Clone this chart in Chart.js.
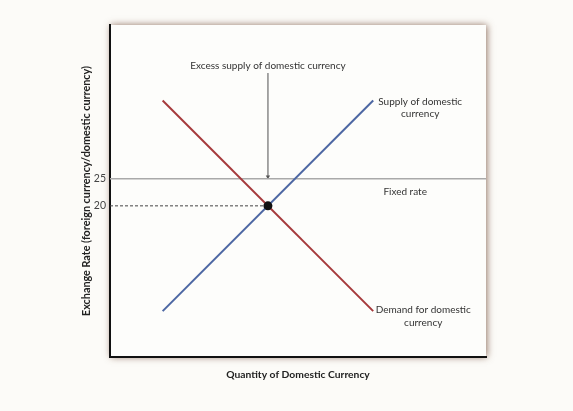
<!DOCTYPE html>
<html><head><meta charset="utf-8">
<script src="https://cdn.jsdelivr.net/npm/chart.js@4/dist/chart.umd.min.js"></script>
<style>
html,body{margin:0;padding:0;background:#fcfbf8;}
#wrap{width:573px;height:411px;position:relative;}
</style></head>
<body><div id="wrap"><canvas id="c" width="573" height="411"></canvas></div>
<script>
// ---- data ----
const quantity = [14, 70];
const demandRate = [39.5, 0.5];
const supplyRate = [0.5, 39.5];
const fixedRate = 25;
const equilibriumQuantity = 42;
const equilibriumRate = 20;
const arrowRates = [44.6, 25.4];
const yTickValues = [20, 25];
const xRange = [0, 100];
const yRange = [-8, 53.5];
const labels = [
  {text: ["Excess supply of domestic currency"], q: 42, r: 46.0},
  {text: ["Supply of domestic", "currency"], q: 82.5, r: 39.3},
  {text: ["Fixed rate"], q: 78.5, r: 22.6},
  {text: ["Demand for domestic", "currency"], q: 83.3, r: 0.7}
];
const xTitle = "Quantity of Domestic Currency";
const yTitle = "Exchange Rate (foreign currency/domestic currency)";

const FONT = "Lato, 'Open Sans', sans-serif";

const boxPlugin = {
  id: 'box',
  beforeDraw(chart) {
    const {ctx, chartArea: a} = chart;
    ctx.save();
    ctx.shadowColor = 'rgba(110,70,50,0.75)';
    ctx.shadowBlur = 7;
    ctx.shadowOffsetX = 1;
    ctx.shadowOffsetY = 0;
    ctx.fillStyle = '#fdfdfb';
    ctx.fillRect(a.left, a.top, a.right - a.left, a.bottom - a.top);
    ctx.restore();
  },
  afterDatasetsDraw(chart) {
    const {ctx, scales: {x, y}} = chart;
    ctx.save();
    ctx.fillStyle = '#333';
    ctx.font = "10px " + FONT;
    ctx.textAlign = 'center';
    ctx.textBaseline = 'middle';
    labels.forEach(l => {
      const px = x.getPixelForValue(l.q);
      const py = y.getPixelForValue(l.r);
      l.text.forEach((t, i) => ctx.fillText(t, px, py + i * 12.5));
    });
    ctx.restore();
  }
};

new Chart(document.getElementById('c'), {
  type: 'scatter',
  data: {
    datasets: [
      {order: 0, data: [{x: equilibriumQuantity, y: equilibriumRate}], pointRadius: 4.5, pointBackgroundColor: '#111', pointBorderColor: '#111', pointBorderWidth: 0, pointStyle: 'circle'},
      {order: 1, data: quantity.map((q, i) => ({x: q, y: demandRate[i]})), showLine: true, borderColor: '#a63a3c', borderWidth: 2, pointRadius: 0},
      {order: 1, data: quantity.map((q, i) => ({x: q, y: supplyRate[i]})), showLine: true, borderColor: '#4d67a3', borderWidth: 2, pointRadius: 0},
      {order: 2, data: [{x: xRange[0], y: fixedRate}, {x: xRange[1], y: fixedRate}], showLine: true, borderColor: '#a9a9a9', borderWidth: 1.5, pointRadius: 0},
      {order: 2, data: [{x: xRange[0], y: equilibriumRate}, {x: equilibriumQuantity, y: equilibriumRate}], showLine: true, borderColor: '#444', borderWidth: 1, borderDash: [3, 2], pointRadius: 0},
      {order: 2, data: arrowRates.map(r => ({x: equilibriumQuantity, y: r})), showLine: true, borderColor: '#999', borderWidth: 1,
        pointRadius: [0, 2.5], pointStyle: 'triangle', pointRotation: 180, pointBackgroundColor: '#555', pointBorderWidth: 0}
    ]
  },
  options: {
    responsive: false,
    animation: false,
    layout: {padding: {left: 0, top: 25, right: 87, bottom: 0}},
    plugins: {legend: {display: false}, tooltip: {enabled: false}},
    scales: {
      x: {
        min: xRange[0], max: xRange[1],
        grid: {display: false, drawTicks: false},
        border: {color: '#111', width: 2},
        ticks: {display: false},
        title: {display: true, text: xTitle, color: '#222', font: {family: FONT, size: 10.3, weight: 'bold'}, padding: {top: 0, bottom: 30}},
        afterFit(s) { s.height = 54; }
      },
      y: {
        min: yRange[0], max: yRange[1],
        grid: {display: false, drawTicks: false},
        border: {color: '#111', width: 2},
        afterBuildTicks(s) { s.ticks = yTickValues.map(v => ({value: v})); },
        ticks: {color: '#444', padding: 4, font: {family: FONT, size: 10.5}},
        title: {display: true, text: yTitle, color: '#222', font: {family: FONT, size: 10.8, weight: 'bold'}, padding: {top: 80, bottom: 0}},
        afterFit(s) { s.width = 110; }
      }
    }
  },
  plugins: [boxPlugin]
});
</script>
</body></html>
